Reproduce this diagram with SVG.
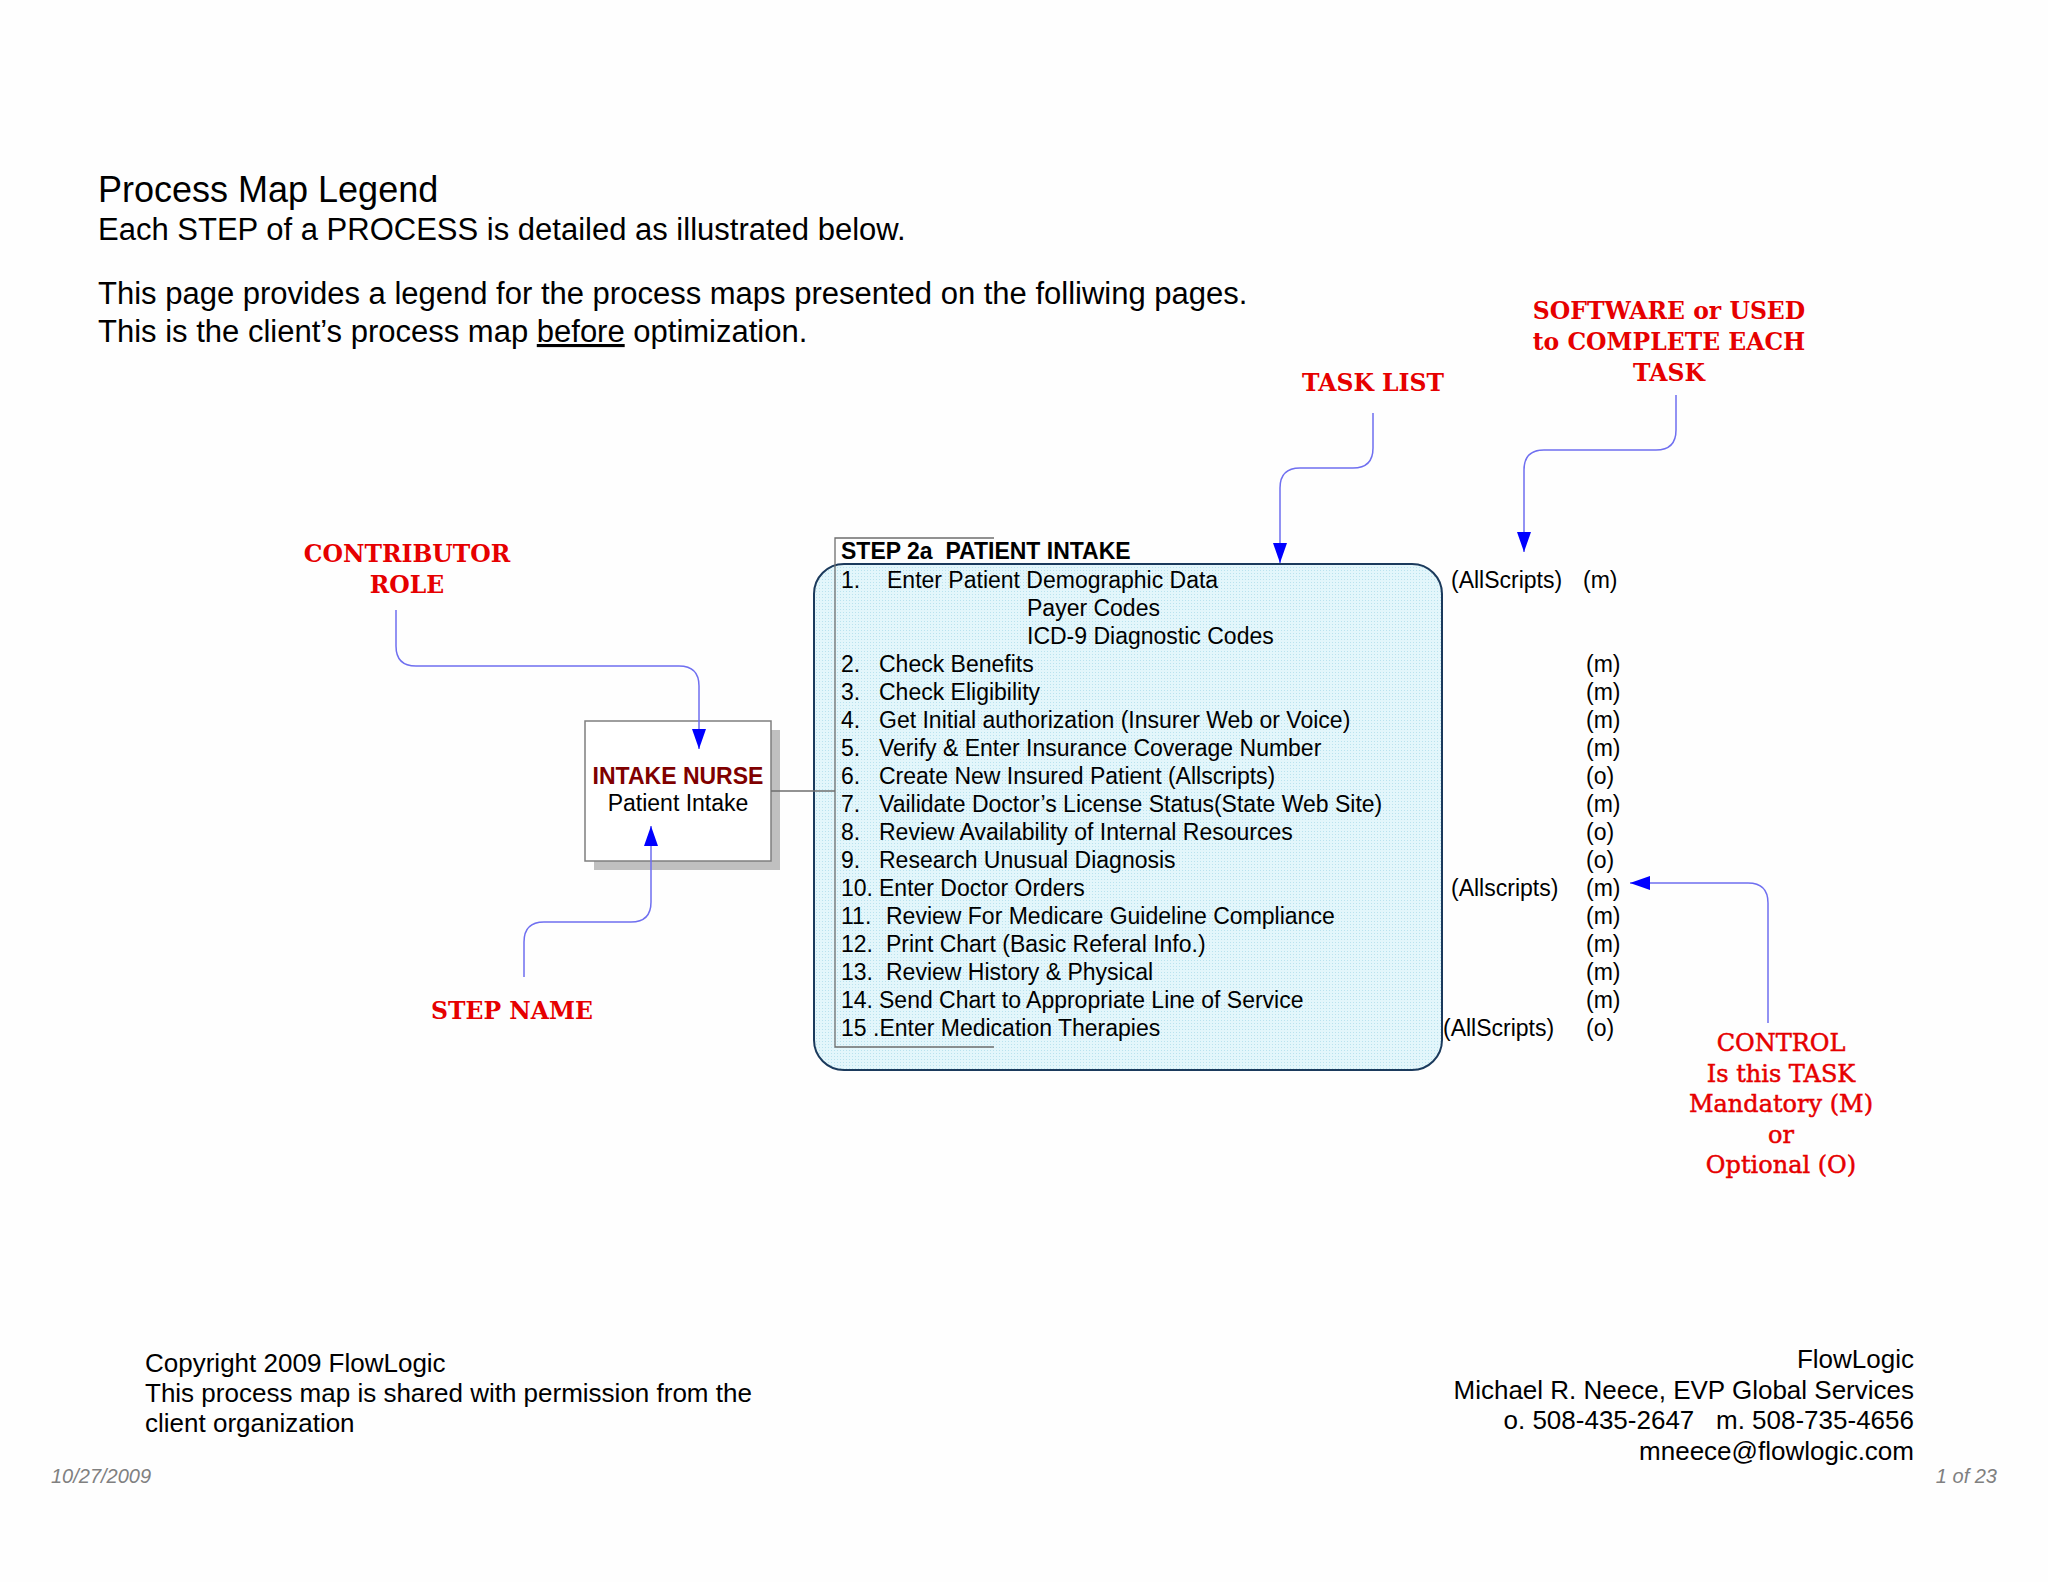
<svg xmlns="http://www.w3.org/2000/svg" width="2048" height="1582" viewBox="0 0 2048 1582">
  <style>
    .sans { font-family: "Liberation Sans", Arial, sans-serif; fill: #000; }
    .body { font-size: 31px; }
    .task { font-size: 23px; }
    .lbl { font-family: "DejaVu Serif", "Liberation Serif", serif; font-weight: bold; font-size: 23.5px; fill: #e60000; text-anchor: middle; }
    .lblr { font-family: "DejaVu Serif", "Liberation Serif", serif; font-size: 24px; fill: #e60000; stroke: #e60000; stroke-width: 0.5; text-anchor: middle; }
    .foot { font-size: 26px; }
    .meta { font-family: "Liberation Sans", Arial, sans-serif; font-style: italic; font-size: 20px; fill: #808080; }
    .conn { fill: none; stroke: #6f6ff0; stroke-width: 1.5; }
    .gray { fill: none; stroke: #6e6e6e; stroke-width: 1.3; }
  </style>
  <defs>
    <marker id="arrow" markerUnits="userSpaceOnUse" markerWidth="20" markerHeight="14" refX="20" refY="7" orient="auto">
      <path d="M0,0 L20,7 L0,14 Z" fill="#0000ff"/>
    </marker>
    <pattern id="dots" width="3" height="3" patternUnits="userSpaceOnUse">
      <rect width="3" height="3" fill="#e3f6fb"/>
      <rect width="1" height="1" fill="#b9e2ee"/>
    </pattern>
  </defs>
  <rect width="2048" height="1582" fill="#fefefe"/>

  <g id="header">
    <text class="sans" x="98" y="202" font-size="36">Process Map Legend</text>
    <text class="sans body" x="98" y="240">Each STEP of a PROCESS is detailed as illustrated below.</text>
    <text class="sans body" x="98" y="304">This page provides a legend for the process maps presented on the folliwing pages.</text>
    <text class="sans body" x="98" y="342">This is the client’s process map <tspan text-decoration="underline">before</tspan> optimization.</text>
  </g>

  <g id="node-step-name">
    <rect x="594" y="730" width="186" height="140" fill="#c0c0c0"/>
    <rect x="585" y="721" width="186" height="140" fill="#ffffff" stroke="#7f7f7f" stroke-width="1.5"/>
    <text class="sans task" x="678" y="784" text-anchor="middle" font-weight="bold" style="fill:#800000">INTAKE NURSE</text>
    <text class="sans task" x="678" y="811" text-anchor="middle">Patient Intake</text>
  </g>

  <g id="node-task-list">
    <rect x="814" y="564" width="628" height="506" rx="30" ry="30" fill="url(#dots)" stroke="#1b3a5c" stroke-width="2"/>
    <path class="gray" d="M994,538 H835 V1047 H994"/>
    <text class="sans task" x="841" y="559" font-weight="bold" xml:space="preserve">STEP 2a  PATIENT INTAKE</text>
    <g class="sans task">
      <text x="841" y="588.3">1.</text><text x="887" y="588.3">Enter Patient Demographic Data</text>
      <text x="1027" y="616.3">Payer Codes</text>
      <text x="1027" y="644.2">ICD-9 Diagnostic Codes</text>
      <text x="841" y="672.2">2.</text><text x="879" y="672.2">Check Benefits</text>
      <text x="841" y="700.1">3.</text><text x="879" y="700.1">Check Eligibility</text>
      <text x="841" y="728.1">4.</text><text x="879" y="728.1">Get Initial authorization (Insurer Web or Voice)</text>
      <text x="841" y="756">5.</text><text x="879" y="756">Verify &amp; Enter Insurance Coverage Number</text>
      <text x="841" y="784">6.</text><text x="879" y="784">Create New Insured Patient (Allscripts)</text>
      <text x="841" y="811.9">7.</text><text x="879" y="811.9">Vailidate Doctor’s License Status(State Web Site)</text>
      <text x="841" y="839.9">8.</text><text x="879" y="839.9">Review Availability of Internal Resources</text>
      <text x="841" y="867.8">9.</text><text x="879" y="867.8">Research Unusual Diagnosis</text>
      <text x="841" y="895.8">10.</text><text x="879" y="895.8">Enter Doctor Orders</text>
      <text x="841" y="923.7">11.</text><text x="886" y="923.7">Review For Medicare Guideline Compliance</text>
      <text x="841" y="951.7">12.</text><text x="886" y="951.7">Print Chart (Basic Referal Info.)</text>
      <text x="841" y="979.6">13.</text><text x="886" y="979.6">Review History &amp; Physical</text>
      <text x="841" y="1007.6">14.</text><text x="879" y="1007.6">Send Chart to Appropriate Line of Service</text>
      <text x="841" y="1035.5">15</text><text x="873" y="1035.5">.Enter Medication Therapies</text>
    </g>
  </g>

  <g id="node-software-control" class="sans task">
    <text x="1451" y="588.3">(AllScripts)</text><text x="1583" y="588.3">(m)</text>
    <text x="1586" y="672.2">(m)</text>
    <text x="1586" y="700.1">(m)</text>
    <text x="1586" y="728.1">(m)</text>
    <text x="1586" y="756">(m)</text>
    <text x="1586" y="784">(o)</text>
    <text x="1586" y="811.9">(m)</text>
    <text x="1586" y="839.9">(o)</text>
    <text x="1586" y="867.8">(o)</text>
    <text x="1451" y="895.8">(Allscripts)</text><text x="1586" y="895.8">(m)</text>
    <text x="1586" y="923.7">(m)</text>
    <text x="1586" y="951.7">(m)</text>
    <text x="1586" y="979.6">(m)</text>
    <text x="1586" y="1007.6">(m)</text>
    <text x="1443" y="1035.5">(AllScripts)</text><text x="1586" y="1035.5">(o)</text>
  </g>

  <g id="label-contributor-role">
    <text class="lbl" x="407" y="562">CONTRIBUTOR</text>
    <text class="lbl" x="407" y="593">ROLE</text>
  </g>
  <g id="label-step-name">
    <text class="lbl" x="512" y="1019">STEP NAME</text>
  </g>
  <g id="label-task-list">
    <text class="lbl" x="1373" y="391">TASK LIST</text>
  </g>
  <g id="label-software">
    <text class="lbl" x="1669" y="319">SOFTWARE or USED</text>
    <text class="lbl" x="1669" y="350">to COMPLETE EACH</text>
    <text class="lbl" x="1669" y="381">TASK</text>
  </g>
  <g id="label-control">
    <text class="lblr" x="1781" y="1051">CONTROL</text>
    <text class="lblr" x="1781" y="1082">Is this TASK</text>
    <text class="lblr" x="1781" y="1112">Mandatory (M)</text>
    <text class="lblr" x="1781" y="1143">or</text>
    <text class="lblr" x="1781" y="1173">Optional (O)</text>
  </g>

  <g id="connectors">
    <path class="gray" d="M771,791 H835"/>
    <path class="conn" d="M396,610 V646 Q396,666 416,666 H679 Q699,666 699,686 V749" marker-end="url(#arrow)"/>
    <path class="conn" d="M524,977 V942 Q524,922 544,922 H631 Q651,922 651,902 V826" marker-end="url(#arrow)"/>
    <path class="conn" d="M1373,413 V448 Q1373,468 1353,468 H1300 Q1280,468 1280,488 V563" marker-end="url(#arrow)"/>
    <path class="conn" d="M1676,395 V430 Q1676,450 1656,450 H1544 Q1524,450 1524,470 V552" marker-end="url(#arrow)"/>
    <path class="conn" d="M1768,1023 V903 Q1768,883 1748,883 H1630" marker-end="url(#arrow)"/>
  </g>

  <g id="footer">
    <text class="sans foot" x="145" y="1372">Copyright 2009 FlowLogic</text>
    <text class="sans foot" x="145" y="1402">This process map is shared with permission from the</text>
    <text class="sans foot" x="145" y="1432">client organization</text>
    <text class="meta" x="51" y="1483">10/27/2009</text>
    <g class="sans foot" text-anchor="end">
      <text x="1914" y="1368">FlowLogic</text>
      <text x="1914" y="1399">Michael R. Neece, EVP Global Services</text>
      <text x="1914" y="1429" xml:space="preserve">o. 508-435-2647   m. 508-735-4656</text>
      <text x="1914" y="1460">mneece@flowlogic.com</text>
    </g>
    <text class="meta" x="1997" y="1483" text-anchor="end">1 of 23</text>
  </g>
</svg>
